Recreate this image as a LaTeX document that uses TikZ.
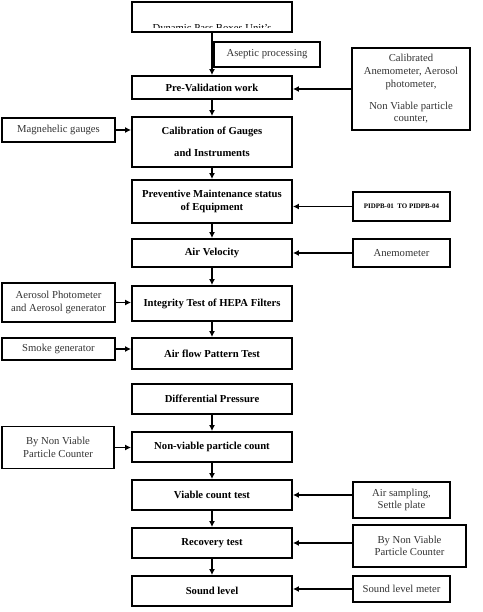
\documentclass[tikz,border=0pt]{standalone}
\usepackage{fontspec}
\setmainfont{Liberation Serif}
\usetikzlibrary{arrows.meta}

\tikzset{
  mainbox/.style={draw, line width=1.4pt, minimum width=120pt, inner sep=1pt, align=center, font=\fontsize{8}{9.5}\selectfont\bfseries},
  sidebox/.style={draw, line width=1.4pt, inner sep=1pt, align=center, text=black!80, font=\fontsize{8}{9.5}\selectfont},
  flowline/.style={line width=1.4pt, -{Latex[length=4.5pt,width=4.5pt]}},
}

\begin{document}
\begin{tikzpicture}[x=0.75pt,y=0.75pt,yscale=-1,xscale=1]
\useasboundingbox (0,0) rectangle (483,612);

% Top box, title cut off by its lower edge
\begin{scope}
\clip (132,2) rectangle (292,27.5);
\node (toplabel) [anchor=base, inner sep=0pt, font=\fontsize{8}{9.5}\selectfont] at (212,31) {Dynamic Pass Boxes Unit's};
\end{scope}
\node (top) [mainbox, minimum height=22.5pt] at (212,17) {};

% Main steps
\node (pre) [mainbox, minimum height=17.25pt] at (212,87.5) {Pre-Validation work};
\node (calib) [mainbox, minimum height=37.5pt] at (212,142) {Calibration of Gauges\\[7pt]and Instruments};
\node (prev) [mainbox, minimum height=32.25pt] at (212,201.5) {Preventive Maintenance status\\of Equipment};
\node (airvel) [mainbox, minimum height=21pt] at (212,253) {Air Velocity};
\node (hepa) [mainbox, minimum height=26.25pt] at (212,303.5) {Integrity Test of HEPA Filters};
\node (pattern) [mainbox, minimum height=23.25pt] at (212,353.5) {Air flow Pattern Test};
\node (dp) [mainbox, minimum height=22.5pt] at (212,399) {Differential Pressure};
\node (nvpc) [mainbox, minimum height=22.5pt] at (212,447) {Non-viable particle count};
\node (viable) [mainbox, minimum height=22.5pt] at (212,495) {Viable count test};
\node (recovery) [mainbox, minimum height=22.5pt] at (212,543) {Recovery test};
\node (sound) [mainbox, minimum height=22.5pt] at (212,591) {Sound level};

% Side boxes
\node (aseptic) [sidebox, minimum width=79.5pt, minimum height=18.75pt] at (267,54.5) {Aseptic processing};
\node (instr) [sidebox, minimum width=88.5pt, minimum height=61.5pt] at (411,89) {Calibrated\\Anemometer, Aerosol\\photometer,\\[7pt]Non Viable particle\\counter,};
\node (magne) [sidebox, minimum width=84.75pt, minimum height=18pt] at (58.5,130) {Magnehelic gauges};
\node (pidpb) [sidebox, minimum width=72.75pt, minimum height=21.75pt, text=black, font=\fontsize{5.2}{6}\selectfont\bfseries] at (401.5,206.5) {PIDPB-01~~TO PIDPB-04};
\node (anemo) [sidebox, minimum width=72.75pt, minimum height=21pt] at (401.5,253) {Anemometer};
\node (aerosol) [sidebox, minimum width=84.75pt, minimum height=29.25pt] at (58.5,302.5) {Aerosol Photometer\\and Aerosol generator};
\node (smoke) [sidebox, minimum width=84.75pt, minimum height=16.5pt] at (58.5,349) {Smoke generator};
\node (nvleft) [sidebox, minimum width=84pt, minimum height=31.5pt] at (58,447.5) {By Non Viable\\Particle Counter};
\node (sampling) [sidebox, minimum width=72.75pt, minimum height=27pt] at (401.5,500) {Air sampling,\\Settle plate};
\node (nvright) [sidebox, minimum width=84.75pt, minimum height=31.5pt] at (409.5,546) {By Non Viable\\Particle Counter};
\node (meter) [sidebox, minimum width=72.75pt, minimum height=19.5pt] at (401.5,589) {Sound level meter};

% Arrows down the main column
\draw [flowline] (top) -- (pre);
\foreach \a/\b in {pre/calib, calib/prev, prev/airvel, airvel/hepa, hepa/pattern, dp/nvpc, nvpc/viable, viable/recovery, recovery/sound}
  \draw [flowline] (\a) -- (\b);

% Arrows from the left
\foreach \s/\m in {magne/calib, aerosol/hepa, smoke/pattern, nvleft/nvpc}
  \draw [flowline] (\s.east) -- (\s.east -| \m.west);

% Arrows from the right
\foreach \s/\m in {instr/pre, pidpb/prev, anemo/airvel, meter/sound}
  \draw [flowline] (\s.west) -- (\s.west -| \m.east);
\foreach \s/\m in {sampling/viable, nvright/recovery}
  \draw [flowline] (\m.east -| \s.west) -- (\m.east);

\end{tikzpicture}
\end{document}
